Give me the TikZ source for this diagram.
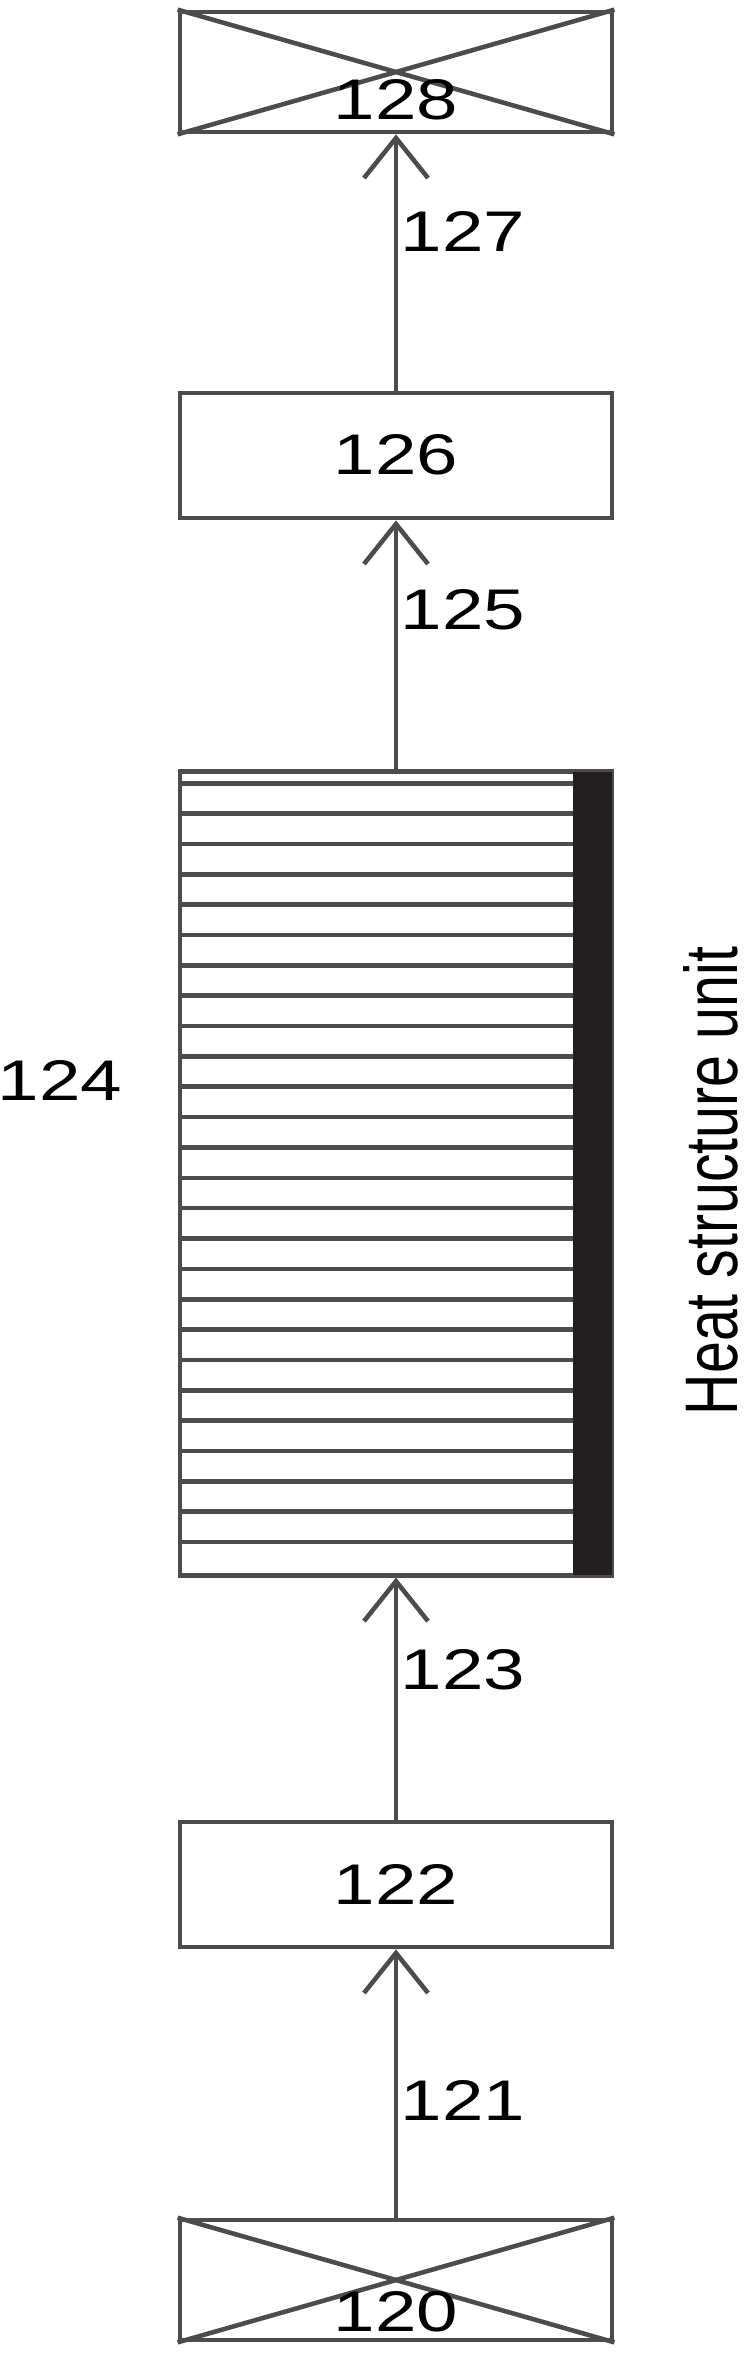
\documentclass[tikz,border=0pt]{standalone}
\usepackage{fontspec}
\setmainfont{Liberation Sans}
\usetikzlibrary{arrows.meta}
\newcommand{\wide}[1]{\scalebox{1.3}[1]{#1}}
\tikzset{
	unitbox/.style={draw=black!70, line width=1.3pt, minimum width=4.32cm, inner sep=0pt},
	flow/.style={draw=black!70, line width=1.3pt, -{Straight Barb[length=0.4cm, width=0.64cm]}},
	numlabel/.style={inner sep=0pt, font=\fontsize{16.3}{18}\selectfont},
}

\begin{document}
\begin{tikzpicture}[x=0.01cm, y=-0.01cm]
	%%%%% START %%%%%
	\useasboundingbox (0, 0) rectangle (750, 2354);
	
	% boxes
	\node[unitbox, minimum height=1.2cm] (b128) at (396, 72) {};
	\node[unitbox, minimum height=1.25cm] (b126) at (396, 455.5) {};
	\node[unitbox, minimum height=8.03cm] (b124) at (396, 1173.5) {};
	\node[unitbox, minimum height=1.25cm] (b122) at (396, 1884.5) {};
	\node[unitbox, minimum height=1.2cm] (b120) at (396, 2280) {};
	
	% crosses
	\draw[black!70, line width=1.3pt] (b128.north west) -- (b128.south east);
	\draw[black!70, line width=1.3pt] (b128.south west) -- (b128.north east);
	\draw[black!70, line width=1.3pt] (b120.north west) -- (b120.south east);
	\draw[black!70, line width=1.3pt] (b120.south west) -- (b120.north east);
	
	% layers and heat structure
	\foreach \k in {0,...,25}
		\draw[black!70, line width=1.3pt] (180, 1542-30.35*\k) -- (573, 1542-30.35*\k);
	\fill[fill={rgb,255:red,35;green,31;blue,32}] (573, 772) rectangle (612, 1575);
	
	% flow
	\draw[flow] (b120.north) -- (b122.south);
	\draw[flow] (b122.north) -- (b124.south);
	\draw[flow] (b124.north) -- (b126.south);
	\draw[flow] (b126.north) -- (b128.south);
	
	% labels
	\node[numlabel] (t128) at (396, 100) {\wide{128}};
	\node[numlabel] (t126) at (396, 455) {\wide{126}};
	\node[numlabel] (t122) at (396, 1884) {\wide{122}};
	\node[numlabel] (t120) at (396, 2312) {\wide{120}};
	\node[numlabel] (t124) at (60, 1080) {\wide{124}};
	\node[numlabel, anchor=west] (t127) at (400, 231) {\wide{127}};
	\node[numlabel, anchor=west] (t125) at (400, 610) {\wide{125}};
	\node[numlabel, anchor=west] (t123) at (400, 1670) {\wide{123}};
	\node[numlabel, anchor=west] (t121) at (400, 2100) {\wide{121}};
	\node[numlabel, rotate=90] (heat) at (711, 1181) {\scalebox{1}[1.3]{Heat structure unit}};
	%%%%% END %%%%%
\end{tikzpicture}
\end{document}
